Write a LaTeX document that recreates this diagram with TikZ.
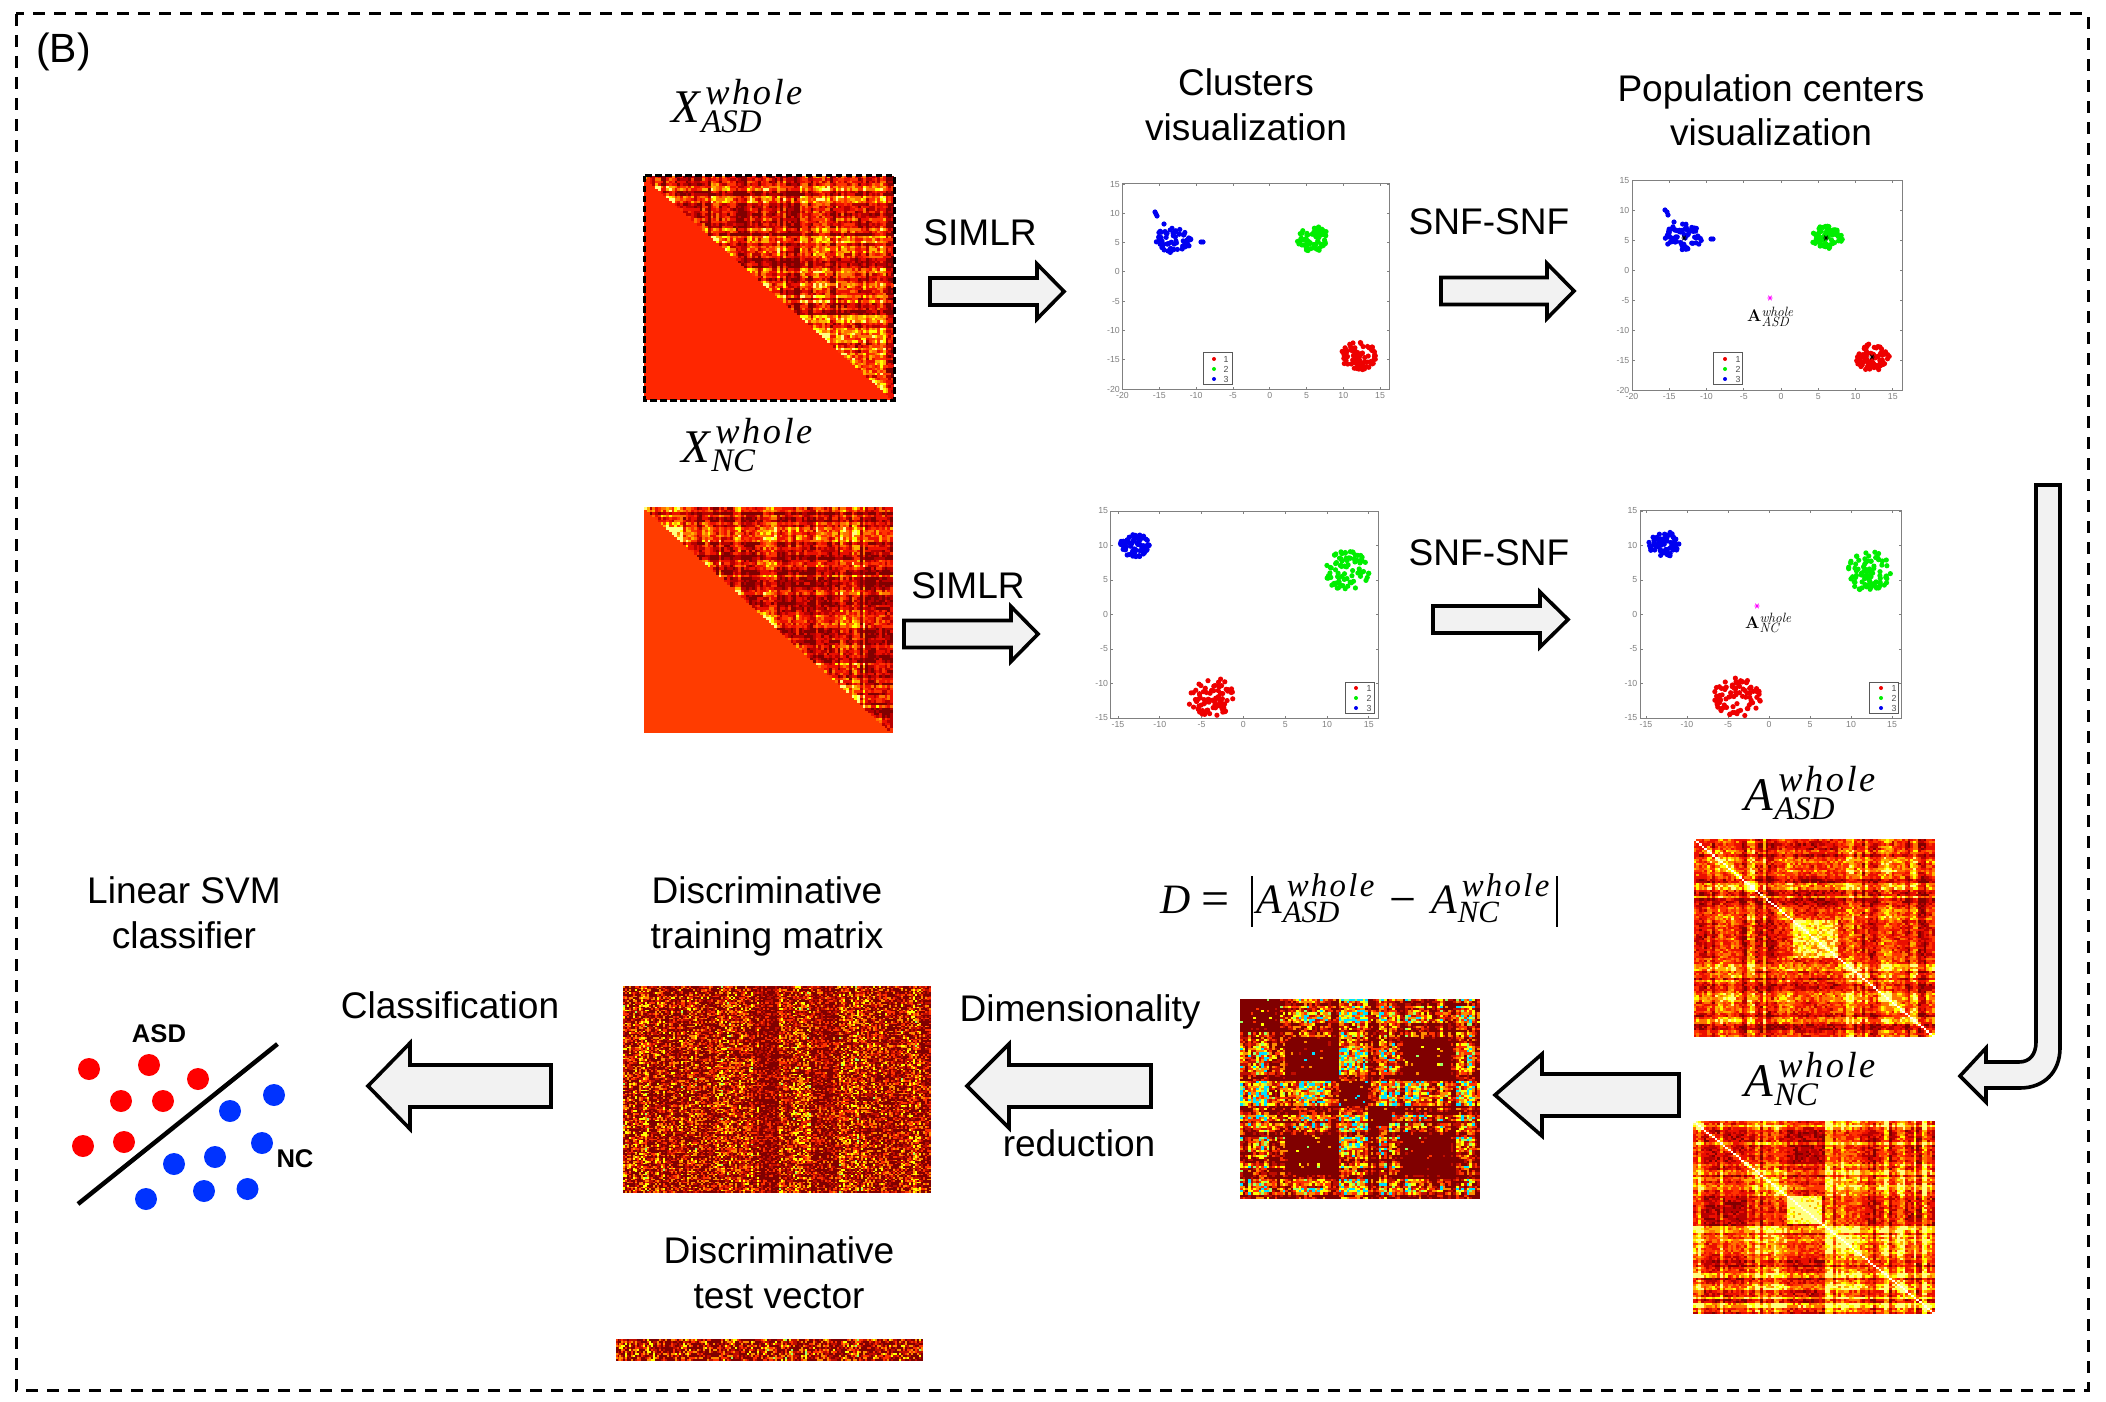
\documentclass[tikz,border=0pt]{standalone}
\usepackage{fontspec}
\usepackage{graphicx}
\usetikzlibrary{calc}
\newfontfamily\ari{Liberation Sans}
\newfontfamily\camf{Liberation Serif}
\newfontfamily\cams{Liberation Serif}[LetterSpace=7]
\definecolor{afill}{HTML}{F2F2F2}
\definecolor{tickgray}{HTML}{808080}
\definecolor{pred}{HTML}{FF0000}
\definecolor{pblue}{HTML}{0033FF}
\definecolor{cblue}{HTML}{0000F0}
\definecolor{cgreen}{HTML}{00EE00}
\definecolor{cred}{HTML}{EE0000}
\definecolor{cmag}{HTML}{FF00FF}
\makeatletter
\newcount\rng \rng=4711
\newcount\hi \newcount\hj \newcount\hv \newcount\hN \newcount\hM
\newcount\hnoise \newcount\hbase \newcount\hk \newcount\hcur \newcount\hc
\newif\ifhsym
\def\hrand{\multiply\rng 75 \advance\rng 74 \hc=\rng \divide\hc 65537 \multiply\hc 65537 \advance\rng-\hc }
% palettes
\def\colhot{\ifnum\hv<18 .5 0 0\else\ifnum\hv<33 .72 0 0\else\ifnum\hv<48 .92 .06 0\else\ifnum\hv<60 1 .2 0\else\ifnum\hv<72 1 .45 0\else\ifnum\hv<82 1 .7 0\else\ifnum\hv<92 1 1 0\else\ifnum\hv<150 1 1 .5\else 1 1 .95\fi\fi\fi\fi\fi\fi\fi\fi}
\def\coljet{\ifnum\hv<38 .5 0 0\else\ifnum\hv<52 .75 .05 0\else\ifnum\hv<64 1 .2 0\else\ifnum\hv<76 1 .55 0\else\ifnum\hv<88 1 1 0\else\ifnum\hv<94 .6 1 .4\else 0 .88 1\fi\fi\fi\fi\fi\fi}
\let\hcol\colhot
% index effects: #1 table name, #2 length, #3 percent hold, #4 amplitude
\def\makefx#1#2#3#4{\hk=0 \hcur=0 \def\fxname{#1}\def\fxN{#2}\def\fxH{#3}\def\fxA{#4}\fxloop}
\def\fxloop{\ifnum\hk<\fxN\relax
  \hrand \hc=\rng \divide\hc 656
  \ifnum\hc<\fxH\relax\else
    \hrand \hcur=\rng \divide\hcur 328 \multiply\hcur\fxA\relax \divide\hcur 100 \advance\hcur-\fxA\relax
  \fi
  \expandafter\xdef\csname\fxname\the\hk\endcsname{\the\hcur}%
  \advance\hk 1 \expandafter\fxloop\fi}
\def\fxset#1#2#3#4{\hk=#2 \def\fxname{#1}\def\fxN{#3}\def\fxV{#4}\fxsetloop}
\def\fxsetloop{\ifnum\hk<\fxN\relax
  \expandafter\xdef\csname\fxname\the\hk\endcsname{\fxV}%
  \advance\hk 1 \expandafter\fxsetloop\fi}
\def\eyp{ey}\def\exq{ex}
\let\hextra\relax
\def\hrect#1#2{\pgfsys@invoke{\hcol\space rg #1 #2 1.04 1.04 re f}}
\def\hcell{\hrand \hv=\rng \divide\hv 656 \multiply\hv\hnoise \divide\hv 100
  \advance\hv\hbase
  \advance\hv\csname\eyp\the\hi\endcsname\relax
  \advance\hv\csname\exq\the\hj\endcsname\relax
  \hextra
  \hrect{\the\hj}{\the\hi}%
  \ifhsym\ifnum\hi=\hj\else\hrect{\the\hi}{\the\hj}\fi\fi}
\def\hloopj{\ifnum\hj<\hM \hcell \advance\hj 1 \expandafter\hloopj\fi}
\def\hloopi{\ifnum\hi<\hN \ifhtri\hj=\hi\else\hj=0 \fi \hloopj \advance\hi 1 \expandafter\hloopi\fi}
\newif\ifhtri
\newcommand\heat[4]{\pgfsysprotocol@flushcurrentprotocol
  \pgfmathsetmacro\hsx{(#3-#1)/\the\hM}\pgfmathsetmacro\hsy{(#4-#2)/\the\hN}%
  \pgfsys@beginscope
  \pgfsys@invoke{\hsx\space 0 0 -\hsy\space #1 -#2 cm}%
  \hi=0 \hloopi
  \pgfsys@endscope}
% extras
\def\xdiagb#1#2{\hc=\hj \advance\hc-\hi \ifnum\hc<#1 \advance\hc-#1 \multiply\hc-#2 \advance\hv\hc \fi}
\def\gof#1{\ifnum#1<15 1\else\ifnum#1<17 0\else\ifnum#1<37 2\else\ifnum#1<48 3\else\ifnum#1<57 4\else\ifnum#1<61 0\else\ifnum#1<79 2\else 0\fi\fi\fi\fi\fi\fi\fi}
\def\dextra{\ifnum\gof\hi>0 \ifnum\gof\hi=\gof\hj \hrand \ifnum\rng<60000 \hv=0 \fi\fi\fi}
\def\aextraA{\xdiagb{4}{6}\ifnum\hi>36 \ifnum\hj<54 \advance\hv 45 \fi\fi\ifnum\hi>18 \ifnum\hj<24 \advance\hv 30 \fi\fi\ifnum\hi=\hj\hv=200 \fi}
\def\aextraB{\xdiagb{4}{7}\ifnum\hi>34 \ifnum\hj<48 \advance\hv 70 \fi\fi\ifnum\hi=\hj\hv=200 \fi}
\def\xextra{\xdiagb{3}{8}}
\makeatother
\tikzset{
  lab/.style={font=\ari\fontsize{37.2}{37.2}\selectfont,inner sep=0pt,anchor=base,text=black},
  ml/.style={inner sep=0pt,anchor=base west,text=black},
  barrow/.style={draw=black,fill=afill,line width=3.6bp,miter limit=10,line join=miter},
  tick/.style={font=\ari\fontsize{8.8}{8.8}\selectfont,text=tickgray,inner sep=0pt},
  legt/.style={font=\ari\fontsize{8.8}{8.8}\selectfont,text=black!70,inner sep=0pt},
  axisl/.style={draw=tickgray,line width=1bp}
}
% X^{whole}_{#2}
\newcommand\wl[2]{\hbox{\fontsize{47}{47}\selectfont\camf\itshape #1\kern 1.5pt\rlap{\raisebox{-10pt}{\fontsize{33}{33}\selectfont\camf\itshape #2}}\raisebox{19pt}{\kern 4pt\fontsize{36.5}{36.5}\selectfont\cams\itshape whole}}}
\newcommand\wm[2]{\hbox{\fontsize{42}{42}\selectfont\camf\itshape #1\kern 1pt\rlap{\raisebox{-10pt}{\fontsize{31}{31}\selectfont\camf\itshape #2}}\raisebox{17pt}{\kern 4pt\fontsize{33}{33}\selectfont\cams\itshape whole}}}
% block arrow: #1 tail coordinate, #2 tip coordinate, #3 half shaft, #4 half head, #5 signed head length
\newcommand\harrow[5]{\draw[barrow] ($(#1)+(0,-#3)$) -- ($(#2)+(-#5,-#3)$) -- ($(#2)+(-#5,-#4)$) -- (#2) -- ($(#2)+(-#5,#4)$) -- ($(#2)+(-#5,#3)$) -- ($(#1)+(0,#3)$) -- cycle;}
% axes: #1 x0 #2 y0 #3 x1 #4 y1 #5 xzero #6 sx #7 yzero #8 sy #9 ticks
\newcommand\plotaxes[9]{%
  \draw[axisl] (#1,#2) rectangle (#3,#4);
  \foreach \t in {#9}{%
    \pgfmathsetmacro\tx{#5+\t*#6}\pgfmathsetmacro\ty{#7-\t*#8}%
    \draw[tickgray,line width=.8bp] (\tx,#4) -- (\tx,#4-2.5) (\tx,#2) -- (\tx,#2+2.5) (#1,\ty) -- (#1+2.5,\ty) (#3,\ty) -- (#3-2.5,\ty);
    \node[tick,anchor=north] (\pname x\t) at (\tx,#4+3.5) {\t};
    \node[tick,anchor=east] (\pname y\t) at (#1-2.5,\ty) {\t};
  }}
\newcommand\cluster[6]{\foreach \k in {1,...,#1}{%
    \pgfmathsetmacro\aa{rnd*360}\pgfmathsetmacro\rr{sqrt(rnd)}%
    \pgfmathsetmacro\cxx{#2+\rr*#4*cos(\aa)}\pgfmathsetmacro\cyy{#3+\rr*#5*sin(\aa)}%
    \fill[#6] (\cxx,\cyy) circle (2.6);}}
\newcommand\dotsat[2]{\foreach \px/\py in {#2}{\fill[#1] (\px,\py) circle (2.6);}}
\newcommand\starmark[3]{\draw[#3,line width=.8bp] (#1-2.6,#2) -- (#1+2.6,#2) (#1-1.6,#2-2.3) -- (#1+1.6,#2+2.3) (#1-1.6,#2+2.3) -- (#1+1.6,#2-2.3);}
\newcommand\legend[5]{% #1 name, #2 x0, #3 y0, #4 dotx, #5 textx
  \draw[draw=black!65,line width=1bp,fill=white] (#2,#3) rectangle (#2+29.5,#3+31);
  \fill[cred] (#4,#3+6) circle (2);\fill[cgreen] (#4,#3+16) circle (2);\fill[cblue] (#4,#3+26) circle (2);
  \node[legt] (#1a) at (#5,#3+6) {1};\node[legt] (#1b) at (#5,#3+16) {2};\node[legt] (#1c) at (#5,#3+26) {3};}
\begin{document}
\begin{tikzpicture}[x=1bp,y=-1bp]
\useasboundingbox (0,0) rectangle (2106,1402);
\fill[white] (0,0) rectangle (2106,1402);
\pgfmathsetseed{1234}
% frame
\draw[black,line width=3bp,dash pattern=on 12bp off 9bp] (16,14) rectangle (2088,1390);
\node[ml,font=\ari\fontsize{41}{41}\selectfont] (B) at (36,63) {(B)};

% ---- X ASD
\fill[fill={rgb,255:red,255;green,38;blue,0}] (644,176) rectangle (894,400);
\makefx{ex}{90}{35}{26}\def\eyp{ex}\hM=90 \hN=90 \hbase=15 \hnoise=44 \htritrue\hsymfalse\let\hextra\xextra\let\hcol\colhot
\heat{644}{176}{894}{400}
\draw[black,line width=3bp,dash pattern=on 6.5bp off 3.5bp] (644,176) rectangle (894,400);
% ---- X NC
\fill[fill={rgb,255:red,255;green,60;blue,0}] (644,507) rectangle (893,733);
\makefx{ex}{90}{35}{24}\hbase=18 \hnoise=44
\heat{644}{507}{893}{733}
% ---- A ASD
\makefx{ex}{90}{40}{26}\fxset{ex}{37}{54}{-6}\htritrue\hsymtrue\hbase=30 \hnoise=42 \let\hextra\aextraA
\heat{1693.5}{839}{1934.5}{1037}
% ---- A NC
\makefx{ex}{90}{40}{30}\fxset{ex}{35}{48}{-18}\hbase=45 \hnoise=38 \let\hextra\aextraB
\heat{1693}{1121}{1935}{1314}
% ---- D
\makefx{ex}{90}{35}{24}\fxset{ex}{37}{48}{20}\hbase=15 \hnoise=62 \let\hextra\dextra\let\hcol\coljet
\heat{1240}{999}{1480}{1199}
% ---- training
\makefx{ex}{154}{35}{13}\fxset{ex}{68}{78}{-17}\makefx{ey}{130}{40}{3}\def\eyp{ey}\htrifalse\hsymfalse\hM=154 \hN=130 \hbase=8 \hnoise=72 \let\hextra\relax
\heat{623}{986}{931}{1193}
% ---- test
\makefx{ey}{11}{40}{3}\hM=154 \hN=11 \makefx{ex}{154}{35}{13}
\heat{615.5}{1339}{923}{1361}

% ---- texts
\node[lab] (c1) at (1246,95.5) {Clusters};
\node[lab] (c2) at (1246,140.5) {visualization};
\node[lab] (p1) at (1771,101.5) {Population centers};
\node[lab] (p2) at (1771,145.5) {visualization};
\node[lab] (s1) at (980,246) {SIMLR};
\node[lab] (s2) at (968,598) {SIMLR};
\node[lab] (n1) at (1489,234.5) {SNF-SNF};
\node[lab] (n2) at (1489,565) {SNF-SNF};
\node[lab] (l1) at (184,903.5) {Linear SVM};
\node[lab] (l2) at (184,948.5) {classifier};
\node[lab] (cl) at (450,1018) {Classification};
\node[lab] (d1) at (767,903.5) {Discriminative};
\node[lab] (d2) at (767,948.5) {training matrix};
\node[lab] (r1) at (1080,1021) {Dimensionality};
\node[lab] (r2) at (1079,1156) {reduction};
\node[lab] (t1) at (779,1263.5) {Discriminative};
\node[lab] (t2) at (779,1308.5) {test vector};
\node[ml] (xa) at (671,123) {\wl{X}{ASD}};
\node[ml] (xn) at (681,462) {\wl{X}{NC}};
\node[ml] (aa) at (1744,810) {\wl{A}{ASD}};
\node[ml] (an) at (1744,1096) {\wl{A}{NC}};
% equation
\node[ml] (eqd) at (1160,913) {\hbox{\fontsize{42}{42}\selectfont\camf\itshape D}};
\node[ml] (eqe) at (1201,915) {\hbox{\fontsize{50}{50}\selectfont\camf =}};
\node[ml] (eqa) at (1256,913) {\wm{A}{ASD}};
\node[ml] (eqm) at (1389,915) {\hbox{\fontsize{48}{48}\selectfont\camf \char"2212}};
\node[ml] (eqb) at (1431,913) {\wm{A}{NC}};
\draw[black,line width=2.2bp] (1252,876) -- (1252,927) (1557,876) -- (1557,927);

% ---- block arrows
\coordinate (a1s) at (930,291.5); \coordinate (a1e) at (1064,291.5);
\harrow{a1s}{a1e}{13.5}{27.5}{27}
\coordinate (a2s) at (1441,291); \coordinate (a2e) at (1574,291);
\harrow{a2s}{a2e}{13.5}{27.5}{27}
\coordinate (a3s) at (904,634); \coordinate (a3e) at (1038,634);
\harrow{a3s}{a3e}{13.5}{27.5}{27}
\coordinate (a4s) at (1433,619.5); \coordinate (a4e) at (1568,619.5);
\harrow{a4s}{a4e}{13.5}{27.5}{28}
\coordinate (a6s) at (1679,1095); \coordinate (a6e) at (1495,1095);
\harrow{a6s}{a6e}{21}{41}{-47}
\coordinate (a7s) at (1151,1086); \coordinate (a7e) at (967,1086);
\harrow{a7s}{a7e}{21}{42}{-42}
\coordinate (a8s) at (551,1086); \coordinate (a8e) at (368,1086);
\harrow{a8s}{a8e}{21}{43}{-42}
% bent arrow
\coordinate (b1) at (2036,485); \coordinate (b2) at (2060,485);
\coordinate (btip) at (1960,1076);
\draw[barrow] (b1) -- (2036,1042) .. controls (2036,1054) and (2030,1062) .. (2019,1062) -- (1986,1062) -- (1986,1048) -- (btip) -- (1986,1102) -- (1986,1088) -- (2020,1088) .. controls (2044,1088) and (2060,1072) .. (2060,1048) -- (b2) -- cycle;

% ---- SVM illustration
\node[ml,font=\ari\bfseries\fontsize{25.7}{25.7}\selectfont,anchor=base] (asd) at (159,1042) {ASD};
\node[ml,font=\ari\bfseries\fontsize{25.7}{25.7}\selectfont,anchor=base] (nc) at (295,1167) {NC};
\foreach \x/\y in {89/1069,149/1065,198/1079,121/1101,163/1101,83/1146,124/1142}{\fill[pred] (\x,\y) circle (11);}
\foreach \x/\y in {274/1095,230/1111,262/1143,215/1157,174/1164,204/1191,247.5/1189,146/1199}{\fill[pblue] (\x,\y) circle (11);}
\coordinate (svm1) at (78,1204); \coordinate (svm2) at (277.5,1044);
\draw[black,line width=4.5bp] (svm1) -- (svm2);

% ---- scatter 1
\def\pname{pa}
\plotaxes{1122.5}{184}{1389}{389}{1269.7}{7.36}{271.9}{5.857}{-20,-15,-10,-5,0,5,10,15}
\cluster{70}{1173}{240}{18}{13}{cblue}
\dotsat{cblue}{1155/212,1156/214,1157/216,1164/224,1201/242,1203/242}
\cluster{70}{1313}{239}{16}{13}{cgreen}
\cluster{80}{1359}{356}{18}{14}{cred}
\legend{la}{1203}{353}{1214}{1226}
% ---- scatter 2
\def\pname{pb}
\plotaxes{1632}{180.7}{1902}{390}{1781}{7.45}{270.4}{5.98}{-20,-15,-10,-5,0,5,10,15}
\cluster{70}{1683}{237}{19}{13}{cblue}
\dotsat{cblue}{1665/210,1667/212,1668/215,1674/222,1711/239,1713/239}
\cluster{70}{1827}{237}{16}{12}{cgreen}
\cluster{80}{1872}{357}{18}{14}{cred}
\starmark{1684}{238}{black}\starmark{1826}{238}{black}\starmark{1872}{357}{black}\starmark{1770}{298}{cmag}
\node[ml,anchor=base west,inner sep=0pt] (lpb) at (1747,322) {\fontsize{17}{17}\selectfont\rmfamily\bfseries A\mdseries\itshape\fontsize{13.5}{13.5}\selectfont\rlap{\raisebox{-4.5pt}{ASD}}\raisebox{6pt}{whole}};
\legend{lb}{1713}{353}{1725}{1738}
% ---- scatter 3
\def\pname{pc}
\plotaxes{1110.7}{511}{1378}{718}{1243.4}{8.36}{614.5}{6.9}{-15,-10,-5,0,5,10,15}
\cluster{70}{1135}{545}{15}{12}{cblue}
\cluster{85}{1347}{571}{22}{20}{cgreen}
\cluster{85}{1210}{697}{24}{20}{cred}
\legend{lc}{1345}{682}{1356}{1369}
% ---- scatter 4
\def\pname{pd}
\plotaxes{1640}{510.7}{1901}{718}{1769}{8.2}{614.5}{6.9}{-15,-10,-5,0,5,10,15}
\cluster{70}{1664}{544}{15.5}{13}{cblue}
\cluster{85}{1869.5}{572}{22}{21}{cgreen}
\cluster{85}{1737.5}{697}{24}{20}{cred}
\starmark{1757}{606}{cmag}
\node[ml,anchor=base west,inner sep=0pt] (lpd) at (1745,628) {\fontsize{17}{17}\selectfont\rmfamily\bfseries A\mdseries\itshape\fontsize{13.5}{13.5}\selectfont\rlap{\raisebox{-4.5pt}{NC}}\raisebox{6pt}{whole}};
\legend{ld}{1869}{682}{1881}{1894}
\end{tikzpicture}
\end{document}
